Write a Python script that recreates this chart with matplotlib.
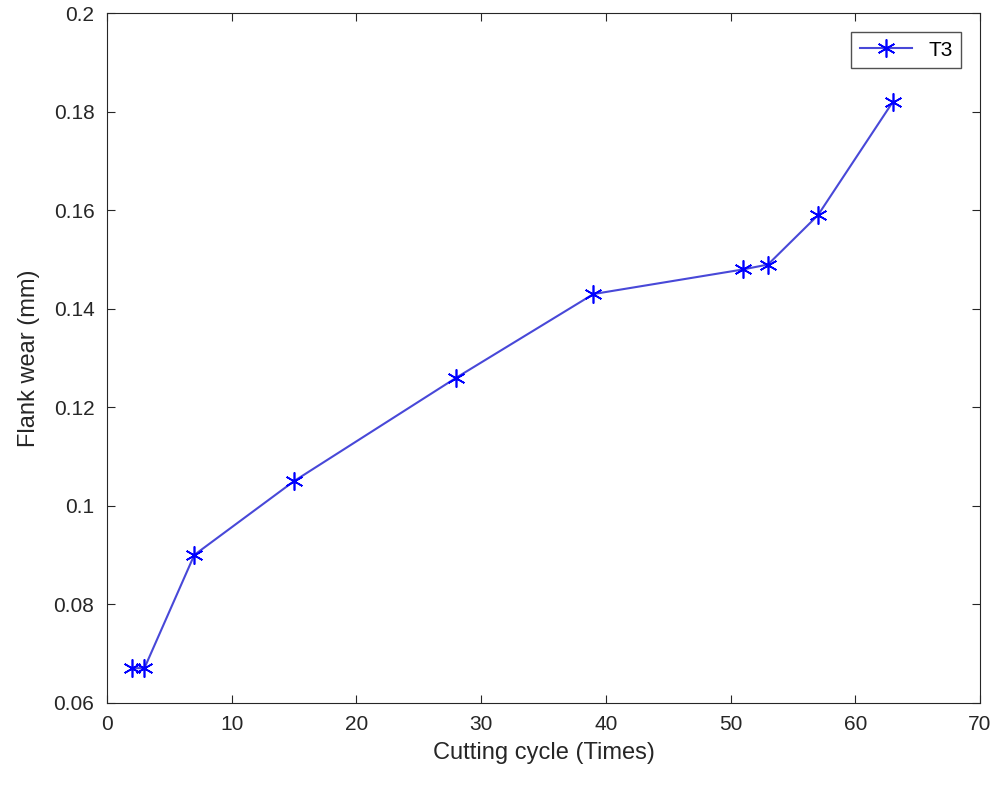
import numpy as np
import matplotlib
matplotlib.use('Agg')
import matplotlib.pyplot as plt

# Cutting cycle vs flank wear (T3)
cycles = [2, 3, 7, 15, 28, 39, 51, 53, 57, 63]
wear = [0.067, 0.067, 0.090, 0.105, 0.126, 0.143, 0.148, 0.149, 0.159, 0.182]

plt.rcParams['font.family'] = ['Liberation Sans', 'DejaVu Sans']
fig = plt.figure(figsize=(10, 7.93), dpi=100)
ax = fig.add_axes([0.107, 0.114, 0.873, 0.869])

ax.plot(cycles, wear, color='#4848d8', lw=1.5, marker=(6, 2, 0), markersize=13,
        markeredgewidth=1.2, markeredgecolor='#0000ff', label='T3')

ax.set_xlim(0, 70)
ax.set_ylim(0.06, 0.2)
ax.set_xticks(np.arange(0, 80, 10))
ax.set_yticks(np.arange(0.06, 0.201, 0.02))
ax.set_yticklabels(['0.06', '0.08', '0.1', '0.12', '0.14', '0.16', '0.18', '0.2'])
ax.tick_params(direction='in', top=True, right=True, labelsize=15,
               colors='#262626', length=6, pad=9)
for s in ax.spines.values():
    s.set_color('#262626')
ax.set_xlabel('Cutting cycle (Times)', fontsize=17, color='#262626', labelpad=6)
ax.set_ylabel('Flank wear (mm)', fontsize=17, color='#262626', labelpad=10)
leg = ax.legend(loc='upper right', fontsize=15, fancybox=False,
                edgecolor='#262626', handlelength=2.5, borderaxespad=0.9)
leg.get_frame().set_linewidth(1)

plt.savefig('out.png', dpi=100)
